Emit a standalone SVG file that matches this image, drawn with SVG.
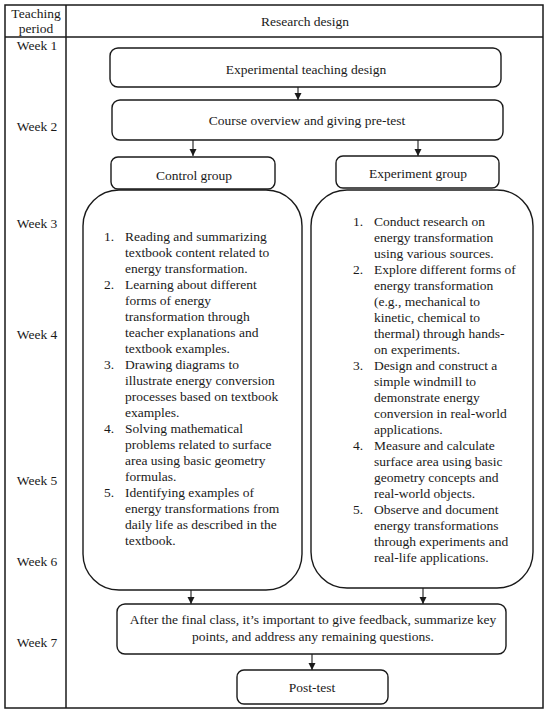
<svg xmlns="http://www.w3.org/2000/svg" width="550" height="714" viewBox="0 0 550 714">
<style>
text{font-family:"Liberation Serif","Times New Roman",serif;font-size:13.5px;fill:#1a1a1a}
.c{text-anchor:middle}
.frame{fill:none;stroke:#1a1a1a;stroke-width:1.5}
.box{fill:#fff;stroke:#1a1a1a;stroke-width:1.4}
.conn{stroke:#1a1a1a;stroke-width:1.1;fill:none}
</style>
<defs>
<marker id="arr" markerUnits="userSpaceOnUse" markerWidth="8" markerHeight="8" refX="7" refY="3.5" orient="auto">
<path d="M0,0 L7,3.5 L0,7 z" fill="#1a1a1a"/>
</marker>
</defs>
<rect width="550" height="714" fill="#fff"/>
<g id="table">
<rect class="frame" x="5" y="5" width="538" height="703"/>
<line class="frame" x1="66" y1="5" x2="66" y2="708"/>
<line class="frame" x1="5" y1="37" x2="543" y2="37"/>
<text class="c" x="36" y="18">Teaching</text>
<text class="c" x="36" y="33">period</text>
<text class="c" x="305" y="25.5">Research design</text>
<text class="c" x="37" y="49.5">Week 1</text>
<text class="c" x="37" y="130.5">Week 2</text>
<text class="c" x="37" y="227.5">Week 3</text>
<text class="c" x="37" y="338.5">Week 4</text>
<text class="c" x="37" y="484.5">Week 5</text>
<text class="c" x="37" y="565.5">Week 6</text>
<text class="c" x="37" y="646.5">Week 7</text>
</g>
<g id="connectors">
<line class="conn" x1="298" y1="87" x2="298" y2="100" marker-end="url(#arr)"/>
<line class="conn" x1="193" y1="140" x2="193" y2="156" marker-end="url(#arr)"/>
<line class="conn" x1="418" y1="140" x2="418" y2="156" marker-end="url(#arr)"/>
<line class="conn" x1="191" y1="590" x2="191" y2="604" marker-end="url(#arr)"/>
<line class="conn" x1="423" y1="588" x2="423" y2="604" marker-end="url(#arr)"/>
<line class="conn" x1="312" y1="654" x2="312" y2="670" marker-end="url(#arr)"/>
</g>
<g id="experimental-design">
<rect class="box" x="110" y="48" width="391" height="39" rx="8"/>
<text class="c" x="306" y="73.5">Experimental teaching design</text>
</g>
<g id="course-overview">
<rect class="box" x="112" y="100" width="391" height="40" rx="8"/>
<text class="c" x="307" y="124.5">Course overview and giving pre-test</text>
</g>
<g id="control-group">
<rect class="box" x="111" y="157" width="164" height="32" rx="7"/>
<text class="c" x="194" y="179.5">Control group</text>
</g>
<g id="experiment-group">
<rect class="box" x="336" y="156" width="163" height="32" rx="7"/>
<text class="c" x="418" y="177.5">Experiment group</text>
</g>
<g id="control-activities">
<rect class="box" x="83" y="190" width="219" height="400" rx="36"/>
<text x="104" y="241">1.</text>
<text x="125" y="241">Reading and summarizing</text>
<text x="125" y="257">textbook content related to</text>
<text x="125" y="273">energy transformation.</text>
<text x="104" y="289">2.</text>
<text x="125" y="289">Learning about different</text>
<text x="125" y="305">forms of energy</text>
<text x="125" y="321">transformation through</text>
<text x="125" y="337">teacher explanations and</text>
<text x="125" y="353">textbook examples.</text>
<text x="104" y="369">3.</text>
<text x="125" y="369">Drawing diagrams to</text>
<text x="125" y="385">illustrate energy conversion</text>
<text x="125" y="401">processes based on textbook</text>
<text x="125" y="417">examples.</text>
<text x="104" y="433">4.</text>
<text x="125" y="433">Solving mathematical</text>
<text x="125" y="449">problems related to surface</text>
<text x="125" y="465">area using basic geometry</text>
<text x="125" y="481">formulas.</text>
<text x="104" y="497">5.</text>
<text x="125" y="497">Identifying examples of</text>
<text x="125" y="513">energy transformations from</text>
<text x="125" y="529">daily life as described in the</text>
<text x="125" y="545">textbook.</text>
</g>
<g id="experiment-activities">
<rect class="box" x="311" y="190" width="222" height="398" rx="36"/>
<text x="353" y="226">1.</text>
<text x="374" y="226">Conduct research on</text>
<text x="374" y="242">energy transformation</text>
<text x="374" y="258">using various sources.</text>
<text x="353" y="274">2.</text>
<text x="374" y="274">Explore different forms of</text>
<text x="374" y="290">energy transformation</text>
<text x="374" y="306">(e.g., mechanical to</text>
<text x="374" y="322">kinetic, chemical to</text>
<text x="374" y="338">thermal) through hands-</text>
<text x="374" y="354">on experiments.</text>
<text x="353" y="370">3.</text>
<text x="374" y="370">Design and construct a</text>
<text x="374" y="386">simple windmill to</text>
<text x="374" y="402">demonstrate energy</text>
<text x="374" y="418">conversion in real-world</text>
<text x="374" y="434">applications.</text>
<text x="353" y="450">4.</text>
<text x="374" y="450">Measure and calculate</text>
<text x="374" y="466">surface area using basic</text>
<text x="374" y="482">geometry concepts and</text>
<text x="374" y="498">real-world objects.</text>
<text x="353" y="514">5.</text>
<text x="374" y="514">Observe and document</text>
<text x="374" y="530">energy transformations</text>
<text x="374" y="546">through experiments and</text>
<text x="374" y="562">real-life applications.</text>
</g>
<g id="feedback">
<rect class="box" x="117" y="604" width="389" height="50" rx="8"/>
<text class="c" x="313" y="623.5">After the final class, it’s important to give feedback, summarize key</text>
<text class="c" x="313" y="640.5">points, and address any remaining questions.</text>
</g>
<g id="post-test">
<rect class="box" x="237" y="670" width="151" height="34" rx="7"/>
<text class="c" x="312" y="691.5">Post-test</text>
</g>
</svg>
